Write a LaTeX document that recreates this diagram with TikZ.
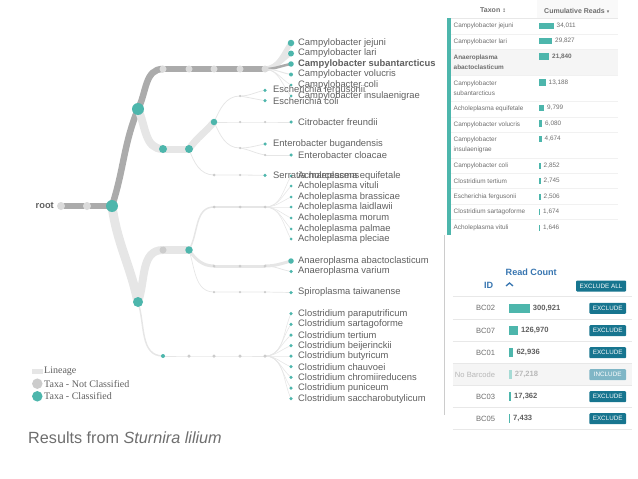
\documentclass[tikz,border=0pt]{standalone}
\usepackage{fontspec}
\setmainfont{Liberation Sans}
\newfontfamily\legendfont{Liberation Serif}
\newfontfamily\symbolfont{DejaVu Sans}
\usetikzlibrary{backgrounds}
\definecolor{classified}{HTML}{4DB6AC}
\definecolor{unclassified}{HTML}{CCCCCC}
\definecolor{lineage}{HTML}{E6E6E6}
\definecolor{readlineage}{HTML}{ABABAB}
\definecolor{labelgray}{HTML}{5F5F5F}
\definecolor{tablegray}{HTML}{6E6E6E}
\definecolor{rowgray}{HTML}{F5F5F5}
\definecolor{rulegray}{HTML}{E8E8E8}
\definecolor{buttonblue}{HTML}{17758F}
\definecolor{buttonpale}{HTML}{7FB6C6}
\definecolor{headblue}{HTML}{3775B0}
\tikzset{
    hit/.style={circle,inner sep=0pt,outer sep=0pt,fill=classified,minimum size=#1},
    miss/.style={circle,inner sep=0pt,outer sep=0pt,fill=unclassified,minimum size=#1},
    link/.style={draw=lineage,line width=#1},
    readlink/.style={draw=readlineage,line width=#1},
    taxon/.style={anchor=west,inner sep=0pt,text=labelgray,font=\fontsize{9.4}{10}\selectfont},
    taxonrow/.style={anchor=west,inner sep=0pt,text=tablegray,align=left,font=\fontsize{6.4}{10}\selectfont},
    button/.style={fill=buttonblue,rounded corners=1pt,text=white,inner sep=0pt,minimum height=11pt,font=\fontsize{6.3}{7}\selectfont},
    legendtext/.style={anchor=west,inner sep=0pt,text=labelgray,font=\fontsize{10}{11}\legendfont}
}
\begin{document}
\begin{tikzpicture}[x=1pt,y=-1pt]
    \useasboundingbox (0,0) rectangle (638,479);
    % draw the main branches
    \node[miss=8,fill=unclassified!70] (root) at (61,206) {};
    \node[miss=8,fill=unclassified!70] (rootnext) at (87,206) {};
    \node[hit=12] (split) at (112,206) {};
    \node[hit=12] (upper) at (138,109) {};
    \node[hit=10] (lower) at (138,302) {};
    \node[anchor=east,inner sep=0pt,text=labelgray,font=\fontsize{9.3}{10}\selectfont\bfseries] (rootname) at (54,206) {root};
    % draw the campylobacter stem
    \foreach \x/\n in {163/a,189/b,214/c,240/d,265/e} {
        \node[miss=7,fill=unclassified!70] (campy\n) at (\x,69) {};
    }
    \node[hit=8] (entero) at (163,149) {};
    \node[hit=8] (enteronext) at (189,149) {};
    \node[hit=6.5] (citro) at (214,122) {};
    \node[miss=2.5] (escha) at (240,96) {};
    \node[miss=2.5] (citroa) at (240,122) {};
    \node[miss=2.5] (citrob) at (265,122) {};
    \node[miss=2.5] (enta) at (240,148) {};
    \node[miss=2.5] (entb) at (265,155) {};
    \node[miss=3] (serra) at (214,175) {};
    \node[miss=2.5] (serrb) at (240,175) {};
    % draw the lower branches
    \node[miss=7] (molla) at (163,250) {};
    \node[hit=7.5] (mollb) at (189,250) {};
    \foreach \x/\n in {214/a,240/b,265/c} {
        \node[miss=3] (achol\n) at (\x,207) {};
        \node[miss=3] (anaer\n) at (\x,266) {};
        \node[miss=2.5] (spiro\n) at (\x,292) {};
    }
    \node[hit=4] (closa) at (163,356) {};
    \foreach \x/\n in {189/b,214/c,240/d,265/e} {
        \node[miss=3.5] (clos\n) at (\x,356) {};
    }
    % draw the leaves
    \foreach \n/\y/\s/\t in {
        cja/43/6.5/Campylobacter jejuni,
        cla/53.5/6/Campylobacter lari,
        cvo/74.5/4/Campylobacter volucris,
        cco/85/3/Campylobacter coli,
        cin/96/3/Campylobacter insulaenigrae,
        cfr/122/3.5/Citrobacter freundii,
        ecl/155/3.5/Enterobacter cloacae,
        aeq/176/3/Acholeplasma equifetale,
        avi/186/3/Acholeplasma vituli,
        abr/197/3/Acholeplasma brassicae,
        ala/207/3/Acholeplasma laidlawii,
        amo/218/3/Acholeplasma morum,
        apa/229/3/Acholeplasma palmae,
        apl/239/3/Acholeplasma pleciae,
        avb/271.5/3.5/Anaeroplasma varium,
        spi/292.5/3.5/Spiroplasma taiwanense,
        cpa/313.7/3.5/Clostridium paraputrificum,
        csa/324.3/3.5/Clostridium sartagoforme,
        cte/335/3.5/Clostridium tertium,
        cbe/345.7/3.5/Clostridium beijerinckii,
        cbu/356/3.5/Clostridium butyricum,
        cch/366.7/3.5/Clostridium chauvoei,
        cmi/377.3/3.5/Clostridium chromiireducens,
        cpu/388/3.5/Clostridium puniceum,
        csb/398.7/3.5/Clostridium saccharobutylicum} {
        \node[hit=\s] (\n) at (291,\y) {};
        \node[taxon] (\n name) at (298,\y) {\t};
    }
    \node[hit=5.5] (csu) at (291,64) {};
    \node[taxon,font=\fontsize{9.4}{10}\selectfont\bfseries] (csu name) at (298,64) {Campylobacter subantarcticus};
    \node[hit=5.5] (aab) at (291,261) {};
    \node[taxon] (aab name) at (298,261) {Anaeroplasma abactoclasticum};
    \foreach \n/\y/\t in {
        efe/90.3/Escherichia fergusonii,
        eco/100.7/Escherichia coli,
        ebu/144/Enterobacter bugandensis,
        sma/175.3/Serratia marcescens} {
        \node[hit=3.5] (\n) at (265,\y) {};
        \node[taxon] (\n name) at (273,\y) {\t};
    }
    % draw the edges
    \begin{pgfonlayer}{background}
        \draw[readlink=6.5] (root.center) -- (rootnext.center) -- (split.center);
        \draw[readlink=6.5] (split.center) to[out=72,in=-112] (upper.center);
        \draw[readlink=6.5] (upper.center) to[out=62,in=180] (campya.center);
        \draw[readlink=6.5] (campya.center) -- (campyb.center) -- (campyc.center) -- (campyd.center) -- (campye.center);
        \draw[link=5] (campye.center) to[out=5,in=235] (cja.center);
        \draw[link=4] (campye.center) to[out=5,in=215] (cla.center);
        \draw[readlink=2.5] (campye.center) to[out=0,in=190] (csu.center);
        \draw[link=1] (campye.center) to[out=0,in=170] (cvo.center);
        \draw[link=.7] (campye.center) to[out=-5,in=150] (cco.center);
        \draw[link=.7] (campye.center) to[out=-5,in=130] (cin.center);
        \draw[link=8] (upper.center) to[out=-65,in=180] (entero.center);
        \draw[link=7] (entero.center) -- (enteronext.center);
        \draw[link=7] (enteronext.center) to[out=55,in=-130] (citro.center);
        \draw[link=.8] (enteronext.center) to[out=-70,in=180] (serra.center);
        \draw[link=.8] (serra.center) -- (serrb.center) -- (sma.center);
        \draw[link=.8] (citro.center) to[out=65,in=180] (escha.center);
        \draw[link=.8] (citro.center) -- (citroa.center) -- (citrob.center) -- (cfr.center);
        \draw[link=.8] (citro.center) to[out=-65,in=180] (enta.center);
        \draw[link=.8] (escha.center) to[out=0,in=190] (efe.center);
        \draw[link=.8] (escha.center) to[out=-10,in=170] (eco.center);
        \draw[link=.8] (enta.center) to[out=0,in=190] (ebu.center);
        \draw[link=.8] (enta.center) to[out=-10,in=170] (entb.center);
        \draw[link=.8] (entb.center) -- (ecl.center);
        \draw[link=9] (split.center) to[out=-82,in=102] (lower.center);
        \draw[link=8] (lower.center) to[out=70,in=180] (molla.center);
        \draw[link=7.5] (molla.center) -- (mollb.center);
        \draw[link=1.5] (mollb.center) to[out=60,in=180] (achola.center);
        \draw[link=1.2] (achola.center) -- (acholb.center) -- (acholc.center);
        \foreach \n/\a in {aeq/240,avi/228,abr/205,ala/180,amo/155,apa/132,apl/120} {
            \draw[link=.6] (acholc.center) to[out=0,in=\a] (\n.center);
        }
        \draw[link=3] (mollb.center) to[out=-55,in=180] (anaera.center);
        \draw[link=3] (anaera.center) -- (anaerb.center) -- (anaerc.center);
        \draw[link=3] (anaerc.center) to[out=0,in=195] (aab.center);
        \draw[link=.8] (anaerc.center) to[out=0,in=170] (avb.center);
        \draw[link=.7] (mollb.center) to[out=-72,in=180] (spiroa.center);
        \draw[link=.7] (spiroa.center) -- (spirob.center) -- (spiroc.center) -- (spi.center);
        \draw[link=1.5] (lower.center) to[out=-72,in=180] (closa.center);
        \draw[link=1] (closa.center) -- (closb.center) -- (closc.center) -- (closd.center) -- (close.center);
        \foreach \n/\a in {cpa/245,csa/235,cte/220,cbe/200,cbu/180,cch/160,cmi/140,cpu/125,csb/115} {
            \draw[link=.6] (close.center) to[out=0,in=\a] (\n.center);
        }
    \end{pgfonlayer}
    % draw the legend
    \node[fill=lineage,inner sep=0pt,minimum width=11pt,minimum height=5pt] (keyline) at (37.2,371) {};
    \node[miss=10.5] (keymiss) at (37.3,383.7) {};
    \node[hit=10.5] (keyhit) at (37.3,396.3) {};
    \node[legendtext] (keylinename) at (44,371) {Lineage};
    \node[legendtext] (keymissname) at (44,383.7) {Taxa - Not Classified};
    \node[legendtext] (keyhitname) at (44,396.3) {Taxa - Classified};
    \node[anchor=west,inner sep=0pt,text=tablegray,font=\fontsize{16.2}{18}\selectfont] (caption) at (28,438) {Results from \textit{Sturnira lilium}};
    % draw the taxon table
    \fill[rowgray!60] (537,0) rectangle (618,17.5);
    \fill[rowgray] (451,49.5) rectangle (618,75);
    \fill[classified] (446.5,18) rectangle (451,235);
    \node[anchor=west,inner sep=0pt,text=tablegray,font=\fontsize{7}{8}\selectfont\bfseries] (taxonhead) at (480,10.5) {Taxon {\symbolfont\mdseries\fontsize{5}{6}\selectfont ↕}};
    \node[anchor=west,inner sep=0pt,text=tablegray,font=\fontsize{7}{8}\selectfont\bfseries] (readshead) at (544,10.5) {Cumulative Reads {\symbolfont\mdseries\fontsize{5}{6}\selectfont ▾}};
    \draw[rulegray,line width=.8] (451,18) -- (618,18);
    \foreach \y in {34,49.5,75,101,117,132,158,173,188,204,219} {
        \draw[rulegray!60,line width=.4] (451,\y) -- (618,\y);
    }
    \foreach \y/\b/\h/\w/\t/\v in {
        26/26/6.5/14.5/Campylobacter jejuni/34{,}011,
        42/41/6/13/Campylobacter lari/29{,}827,
        88/82.5/6.5/6.5/{Campylobacter\\subantarcticus}/13{,}188,
        109/108/6.5/5/Acholeplasma equifetale/9{,}799,
        124.5/123.5/6.5/3/Campylobacter volucris/6{,}080,
        145/139/6.5/2.5/{Campylobacter\\insulaenigrae}/4{,}674,
        165.5/165.5/6/1.5/Campylobacter coli/2{,}852,
        181/181/6/1.5/Clostridium tertium/2{,}745,
        197/197/6/1.5/Escherichia fergusonii/2{,}506,
        212/212/6/1/Clostridium sartagoforme/1{,}674,
        227.5/227.5/6/1/Acholeplasma vituli/1{,}646} {
        \fill[classified] (539,\b-\h/2) rectangle (539+\w,\b+\h/2);
        \node[taxonrow] at (453.5,\y) {\t};
        \node[taxonrow] at (539+\w+3,\b) {\v};
    }
    \fill[classified] (539,53) rectangle (549,60);
    \node[taxonrow,font=\fontsize{6.4}{10}\selectfont\bfseries] (anaerorow) at (453.5,62.5) {Anaeroplasma\\abactoclasticum};
    \node[taxonrow,font=\fontsize{6.4}{10}\selectfont\bfseries] (anaeroval) at (552,57) {21,840};
    % draw the barcode table
    \draw[unclassified,line width=.8] (444.5,235) -- (444.5,415);
    \fill[rowgray] (452.7,363.7) rectangle (631.7,385.7);
    \node[anchor=west,inner sep=0pt,text=headblue,font=\fontsize{9.1}{10}\selectfont\bfseries] (readcount) at (505.5,272) {Read Count};
    \node[anchor=east,inner sep=0pt,text=headblue,font=\fontsize{9.1}{10}\selectfont\bfseries] (idhead) at (493.5,285) {ID};
    \draw[headblue,line width=1.3] (506,286) -- (509.5,283) -- (513,286);
    \node[button,minimum width=50pt] (excludeall) at (601,286) {EXCLUDE ALL};
    \draw[rulegray,line width=.8] (452.7,296.7) -- (631.7,296.7);
    \foreach \y in {319.3,341.7,363.7,385.7,407.7,429.7} {
        \draw[rulegray,line width=.5] (452.7,\y) -- (631.7,\y);
    }
    \foreach \y/\t/\w/\v in {
        308.3/BC02/20.7/300{,}921,
        330.7/BC07/9/126{,}970,
        352.7/BC01/4.3/62{,}936,
        396.7/BC03/2/17{,}362,
        418.7/BC05/1/7{,}433} {
        \node[anchor=east,inner sep=0pt,text=tablegray,font=\fontsize{7.6}{8}\selectfont] at (495.3,\y) {\t};
        \fill[classified] (509,\y-4.7) rectangle (509+\w,\y+4.7);
        \node[anchor=west,inner sep=0pt,text=labelgray,font=\fontsize{7.6}{8}\selectfont\bfseries] at (509+\w+3,\y) {\v};
        \node[button,minimum width=36.7pt] at (607.7,\y) {EXCLUDE};
    }
    \node[anchor=east,inner sep=0pt,text=unclassified!90!black,font=\fontsize{7.6}{8}\selectfont] (nobarcode) at (495.3,374.7) {No Barcode};
    \fill[classified!50] (509,370) rectangle (511.5,379.4);
    \node[anchor=west,inner sep=0pt,text=unclassified!90!black,font=\fontsize{7.6}{8}\selectfont\bfseries] (nobarcodeval) at (514.7,374.7) {27,218};
    \node[button,fill=buttonpale,minimum width=36.7pt] (include) at (607.7,374.7) {INCLUDE};
\end{tikzpicture}
\end{document}
